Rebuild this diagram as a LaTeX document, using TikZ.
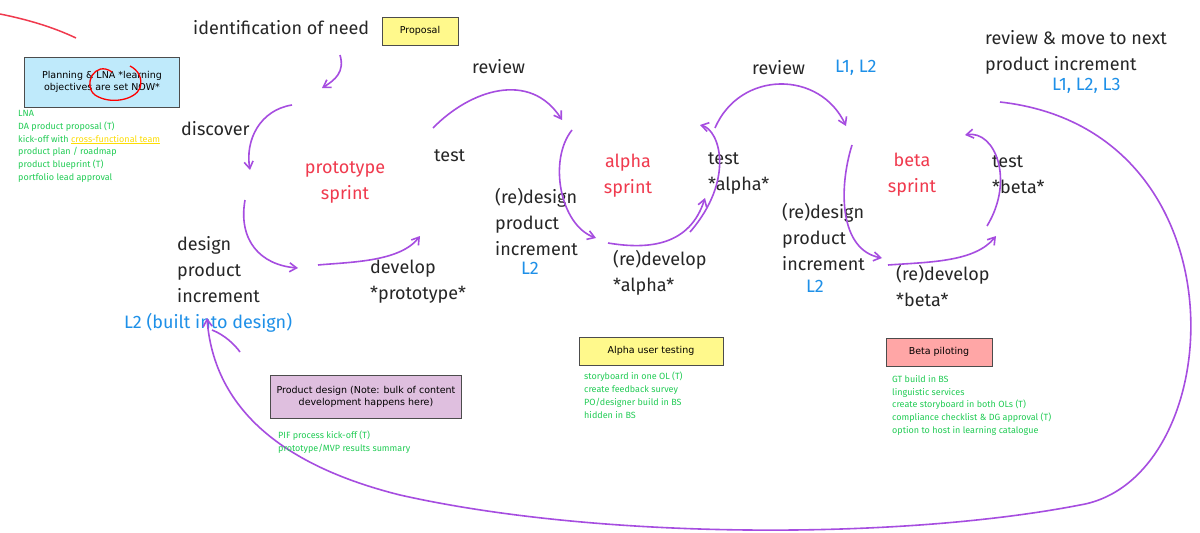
\documentclass[tikz,border=0pt]{standalone}
\usepackage{fontspec}
\setmainfont{DejaVu Sans}
\newfontfamily\hand{Fira Sans}
\usetikzlibrary{arrows.meta}
\definecolor{pur}{HTML}{A64DE0}
\definecolor{grn}{HTML}{22CC55}
\definecolor{blu}{HTML}{1E90E8}
\definecolor{rd}{HTML}{F03A4E}
\begin{document}
\begin{tikzpicture}[x=1pt,y=-1pt,
 hw/.style={font=\hand\fontsize{18}{26}\selectfont,anchor=north west,inner sep=0pt,align=left,text=black!85},
 rw/.style={hw,text=rd},
 bw/.style={hw,text=blu},
 box/.style={draw=black!70,line width=1pt,font=\fontsize{9.5}{12}\selectfont,align=center,inner sep=2pt},
 gl/.style={font=\hand\fontsize{9}{12.8}\selectfont,text=grn,anchor=north west,inner sep=0pt,align=left},
 arr/.style={draw=pur,line width=1.6pt,-{Straight Barb[length=7pt,width=9pt]}},
 arrn/.style={draw=pur,line width=1.6pt}]
\useasboundingbox[fill=white] (0,0) rectangle (1200,533);
\draw[rd,line width=1.5pt] (0,14) .. controls (30,20) and (55,28) .. (76,38);
% left
\node[box,fill=cyan!25,minimum width=155pt,minimum height=50pt] (plan) at (102,82) {Planning \& LNA *learning\\objectives are set NOW*};
\draw[red,line width=1.3pt] (112,72) .. controls (95,60) and (82,85) .. (95,95) .. controls (110,105) and (135,100) .. (140,88) .. controls (143,78) and (138,70) .. (130,66);
\node[gl] (gl1) at (18,110) {LNA\\DA product proposal (T)\\kick-off with \textcolor{yellow!80!orange}{\underline{cross-functional team}}\\product plan / roadmap\\product blueprint (T)\\portfolio lead approval};
\node[hw] (need) at (193,20) {identification of need};
\node[box,fill=yellow!45,minimum width=76pt,minimum height=28pt] (prop) at (420,31) {Proposal};
\coordinate (n1) at (340,55); \coordinate (n2) at (322,88);
\draw[arr] (n1) .. controls (345,72) and (335,80) .. (n2);
\node[hw] (disc) at (181,121) {discover};
\coordinate (d1) at (292,105); \coordinate (d2) at (250,170);
\draw[arr] (d1) .. controls (260,110) and (245,140) .. (d2);
\node[rw,align=center,anchor=center] (proto) at (345,183) {prototype\\sprint};
\node[hw] (test1) at (434,149) {test};
\node[hw] (rev1) at (472,59) {review};
\coordinate (r1) at (433,128); \coordinate (r2) at (562,120);
\draw[arr] (r1) .. controls (470,90) and (530,70) .. (r2);
\node[hw] (dpi) at (177,236) {design\\product\\increment};
\node[bw] (l2a) at (124,313) {L2 (built into design)};
\coordinate (s1) at (245,200); \coordinate (s2) at (298,268);
\draw[arr] (s1) .. controls (238,240) and (260,265) .. (s2);
\coordinate (p1) at (318,265); \coordinate (p2) at (420,236);
\draw[arr] (p1) .. controls (350,262) and (400,262) .. (p2);
\node[hw] (dev1) at (370,260) {develop\\*prototype*};
% alpha
\node[hw] (rd2) at (495,188) {(re)design\\product\\increment};
\node[bw] (l2b) at (521,262) {L2};
\node[rw,align=center,anchor=center] (alpha) at (628,176) {alpha\\sprint};
\node[hw] (test2) at (708,152) {test\\*alpha*};
\coordinate (a1) at (572,130); \coordinate (a2) at (596,238);
\draw[arr] (a1) .. controls (548,160) and (560,225) .. (a2);
\coordinate (a3) at (608,243); \coordinate (a4) at (705,198);
\draw[arr] (a3) .. controls (650,250) and (690,245) .. (a4);
\node[hw] (dev2) at (613,250) {(re)develop\\*alpha*};
\coordinate (a5) at (690,232); \coordinate (a6) at (700,125);
\draw[arr] (a5) .. controls (735,180) and (720,130) .. (a6);
\node[hw] (rev2) at (752,60) {review};
\node[bw] (l12) at (835,60) {L1, L2};
\coordinate (a7) at (715,128); \coordinate (a8) at (846,126);
\draw[arr] (a7) .. controls (740,70) and (820,70) .. (a8);
% beta
\node[hw] (rd3) at (782,203) {(re)design\\product\\increment};
\node[bw] (l2c) at (806,280) {L2};
\node[rw,align=center,anchor=center] (beta) at (912,175) {beta\\sprint};
\node[hw] (test3) at (992,155) {test\\*beta*};
\coordinate (b1) at (852,145); \coordinate (b2) at (882,258);
\draw[arr] (b1) .. controls (838,190) and (840,250) .. (b2);
\coordinate (b3) at (888,265); \coordinate (b4) at (996,236);
\draw[arr] (b3) .. controls (930,262) and (975,262) .. (b4);
\node[hw] (dev3) at (896,265) {(re)develop\\*beta*};
\coordinate (b5) at (987,226); \coordinate (b6) at (965,135);
\draw[arr] (b5) .. controls (1015,180) and (995,130) .. (b6);
\node[hw] (rev3) at (985,30) {review \& move to next\\product increment};
\node[bw] (l123) at (1052,78) {L1, L2, L3};
\coordinate (c1) at (1000,102); \coordinate (c2) at (207,318);
\draw[arr] (c1) .. controls (1250,130) and (1230,480) .. (1080,505)
  .. controls (900,540) and (600,540) .. (400,495)
  .. controls (300,470) and (215,420) .. (c2);
\draw[arrn] (212,330) .. controls (225,335) and (235,345) .. (240,352);
% boxes bottom
\node[box,fill=violet!25,minimum width=191pt,minimum height=43pt] (pd) at (366,397) {Product design (Note: bulk of content\\development happens here)};
\node[gl] (gl2) at (278,431) {PIF process kick-off (T)\\prototype/MVP results summary};
\node[box,fill=yellow!45,minimum width=144pt,minimum height=28pt] (aut) at (651,351) {Alpha user testing};
\node[gl] (gl3) at (584,372) {storyboard in one OL (T)\\create feedback survey\\PO/designer build in BS\\hidden in BS};
\node[box,fill=red!35,minimum width=106pt,minimum height=28pt] (bp) at (939,352) {Beta piloting};
\node[gl] (gl4) at (892,375) {GT build in BS\\linguistic services\\create storyboard in both OLs (T)\\compliance checklist \& DG approval (T)\\option to host in learning catalogue};
\end{tikzpicture}
\end{document}
